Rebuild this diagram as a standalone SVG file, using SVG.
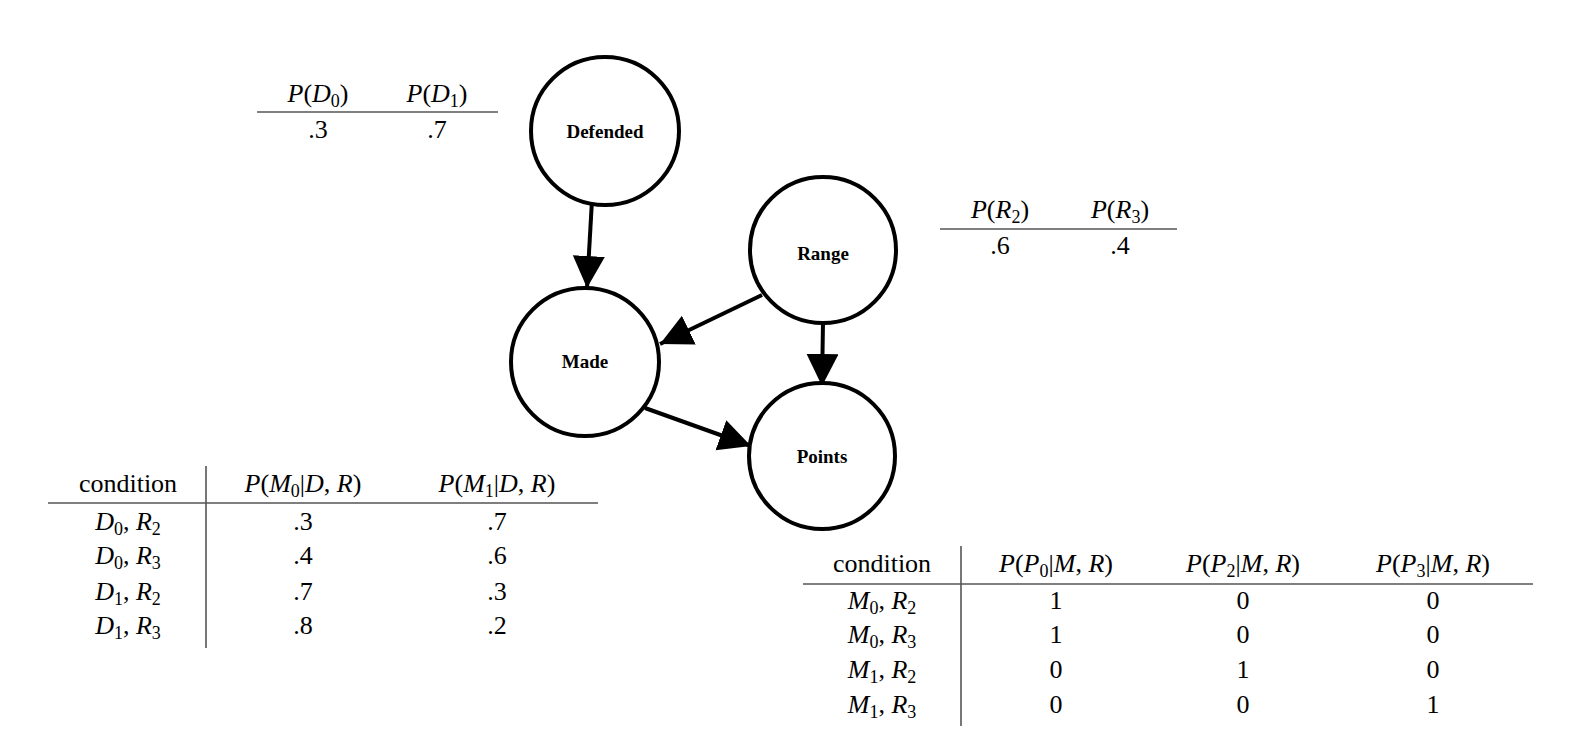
<svg xmlns="http://www.w3.org/2000/svg" width="1570" height="754" viewBox="0 0 1570 754">
<style>
.n{fill:#fff;stroke:#000;stroke-width:4}
.lb{font-family:"Liberation Serif",serif;font-weight:bold;font-size:19px;text-anchor:middle}
.t{font-family:"Liberation Serif",serif;font-size:26px;text-anchor:middle}
.i{font-style:italic}
.s{font-size:18px}
.e{stroke:#000;stroke-width:4;fill:none}
.r{stroke:#555;stroke-width:1.6}
</style>
<defs><marker id="a" markerUnits="userSpaceOnUse" markerWidth="40" markerHeight="40" refX="32" refY="16" orient="auto"><path d="M0,0 L32,16 L0,32 z" fill="#000"/></marker></defs>
<rect width="1570" height="754" fill="#fff"/>
<g id="edges">
<line class="e" x1="592" y1="200" x2="587" y2="288" marker-end="url(#a)"/>
<line class="e" x1="762" y1="295" x2="660" y2="344" marker-end="url(#a)"/>
<line class="e" x1="823" y1="322" x2="822" y2="386" marker-end="url(#a)"/>
<line class="e" x1="645" y1="408" x2="751" y2="446" marker-end="url(#a)"/>
</g>
<g id="defended"><circle class="n" cx="605" cy="131" r="74"/><text class="lb" x="605" y="138">Defended</text></g>
<g id="range"><circle class="n" cx="823" cy="250" r="73"/><text class="lb" x="823" y="260">Range</text></g>
<g id="made"><circle class="n" cx="585" cy="362" r="74"/><text class="lb" x="585" y="368">Made</text></g>
<g id="points"><circle class="n" cx="822" cy="456" r="73"/><text class="lb" x="822" y="463">Points</text></g>
<g id="tableD">
<text class="t" x="318" y="102"><tspan class="i">P</tspan>(<tspan class="i">D</tspan><tspan class="s" dy="5">0</tspan><tspan dy="-5">)</tspan></text>
<text class="t" x="437" y="102"><tspan class="i">P</tspan>(<tspan class="i">D</tspan><tspan class="s" dy="5">1</tspan><tspan dy="-5">)</tspan></text>
<line class="r" x1="257" y1="112" x2="498" y2="112"/>
<text class="t" x="318" y="138">.3</text><text class="t" x="437" y="138">.7</text>
</g>
<g id="tableR">
<text class="t" x="1000" y="218"><tspan class="i">P</tspan>(<tspan class="i">R</tspan><tspan class="s" dy="5">2</tspan><tspan dy="-5">)</tspan></text>
<text class="t" x="1120" y="218"><tspan class="i">P</tspan>(<tspan class="i">R</tspan><tspan class="s" dy="5">3</tspan><tspan dy="-5">)</tspan></text>
<line class="r" x1="940" y1="229" x2="1177" y2="229"/>
<text class="t" x="1000" y="254">.6</text><text class="t" x="1120" y="254">.4</text>
</g>
<g id="tableM">
<text class="t" x="128" y="492">condition</text>
<text class="t" x="303" y="492"><tspan class="i">P</tspan>(<tspan class="i">M</tspan><tspan class="s" dy="5">0</tspan><tspan dy="-5">|</tspan><tspan class="i">D</tspan>, <tspan class="i">R</tspan>)</text>
<text class="t" x="497" y="492"><tspan class="i">P</tspan>(<tspan class="i">M</tspan><tspan class="s" dy="5">1</tspan><tspan dy="-5">|</tspan><tspan class="i">D</tspan>, <tspan class="i">R</tspan>)</text>
<line class="r" x1="48" y1="503" x2="598" y2="503"/>
<line class="r" x1="206" y1="466" x2="206" y2="648"/>
<text class="t" x="128" y="530"><tspan class="i">D</tspan><tspan class="s" dy="5">0</tspan><tspan dy="-5">, </tspan><tspan class="i">R</tspan><tspan class="s" dy="5">2</tspan></text>
<text class="t" x="128" y="564"><tspan class="i">D</tspan><tspan class="s" dy="5">0</tspan><tspan dy="-5">, </tspan><tspan class="i">R</tspan><tspan class="s" dy="5">3</tspan></text>
<text class="t" x="128" y="600"><tspan class="i">D</tspan><tspan class="s" dy="5">1</tspan><tspan dy="-5">, </tspan><tspan class="i">R</tspan><tspan class="s" dy="5">2</tspan></text>
<text class="t" x="128" y="634"><tspan class="i">D</tspan><tspan class="s" dy="5">1</tspan><tspan dy="-5">, </tspan><tspan class="i">R</tspan><tspan class="s" dy="5">3</tspan></text>
<text class="t" x="303" y="530">.3</text><text class="t" x="497" y="530">.7</text>
<text class="t" x="303" y="564">.4</text><text class="t" x="497" y="564">.6</text>
<text class="t" x="303" y="600">.7</text><text class="t" x="497" y="600">.3</text>
<text class="t" x="303" y="634">.8</text><text class="t" x="497" y="634">.2</text>
</g>
<g id="tableP">
<text class="t" x="882" y="572">condition</text>
<text class="t" x="1056" y="572"><tspan class="i">P</tspan>(<tspan class="i">P</tspan><tspan class="s" dy="5">0</tspan><tspan dy="-5">|</tspan><tspan class="i">M</tspan>, <tspan class="i">R</tspan>)</text>
<text class="t" x="1243" y="572"><tspan class="i">P</tspan>(<tspan class="i">P</tspan><tspan class="s" dy="5">2</tspan><tspan dy="-5">|</tspan><tspan class="i">M</tspan>, <tspan class="i">R</tspan>)</text>
<text class="t" x="1433" y="572"><tspan class="i">P</tspan>(<tspan class="i">P</tspan><tspan class="s" dy="5">3</tspan><tspan dy="-5">|</tspan><tspan class="i">M</tspan>, <tspan class="i">R</tspan>)</text>
<line class="r" x1="803" y1="584" x2="1533" y2="584"/>
<line class="r" x1="961" y1="546" x2="961" y2="726"/>
<text class="t" x="882" y="609"><tspan class="i">M</tspan><tspan class="s" dy="5">0</tspan><tspan dy="-5">, </tspan><tspan class="i">R</tspan><tspan class="s" dy="5">2</tspan></text>
<text class="t" x="882" y="643"><tspan class="i">M</tspan><tspan class="s" dy="5">0</tspan><tspan dy="-5">, </tspan><tspan class="i">R</tspan><tspan class="s" dy="5">3</tspan></text>
<text class="t" x="882" y="678"><tspan class="i">M</tspan><tspan class="s" dy="5">1</tspan><tspan dy="-5">, </tspan><tspan class="i">R</tspan><tspan class="s" dy="5">2</tspan></text>
<text class="t" x="882" y="713"><tspan class="i">M</tspan><tspan class="s" dy="5">1</tspan><tspan dy="-5">, </tspan><tspan class="i">R</tspan><tspan class="s" dy="5">3</tspan></text>
<text class="t" x="1056" y="609">1</text><text class="t" x="1243" y="609">0</text><text class="t" x="1433" y="609">0</text>
<text class="t" x="1056" y="643">1</text><text class="t" x="1243" y="643">0</text><text class="t" x="1433" y="643">0</text>
<text class="t" x="1056" y="678">0</text><text class="t" x="1243" y="678">1</text><text class="t" x="1433" y="678">0</text>
<text class="t" x="1056" y="713">0</text><text class="t" x="1243" y="713">0</text><text class="t" x="1433" y="713">1</text>
</g>
</svg>
